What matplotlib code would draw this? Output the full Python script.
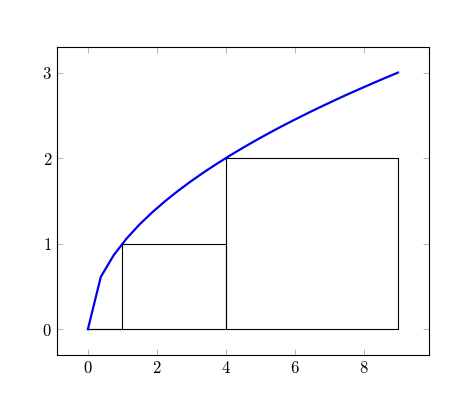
import matplotlib
matplotlib.use("Agg")
import matplotlib.pyplot as plt

plt.rcParams["font.family"] = "serif"
plt.rcParams["font.serif"] = ["cmr10", "DejaVu Serif"]
plt.rcParams["axes.formatter.use_mathtext"] = True

# curve samples (25 points, 0..9)
curve_x = [0, 0.375, 0.75, 1.125, 1.5, 1.875, 2.25, 2.625, 3.0, 3.375, 3.75, 4.125,
           4.5, 4.875, 5.25, 5.625, 6.0, 6.375, 6.75, 7.125, 7.5, 7.875, 8.25, 8.625, 9.0]
curve_y = [0, 0.612, 0.866, 1.061, 1.225, 1.369, 1.5, 1.62, 1.732, 1.837, 1.936, 2.031,
           2.121, 2.208, 2.291, 2.372, 2.449, 2.525, 2.598, 2.669, 2.739, 2.806, 2.872, 2.937, 3.0]

# rectangles: (x0, x1, height)
rects = [(0, 1, 0), (1, 4, 1), (4, 9, 2)]

fig = plt.figure(figsize=(4.74, 4.19), dpi=100)
ax = fig.add_axes([0.120, 0.153, 0.785, 0.735])

for x0, x1, h in rects:
    ax.plot([x0, x0, x1, x1, x0], [0, h, h, 0, 0], color="black", lw=0.8)
ax.plot(curve_x, curve_y, color="#0000ee", lw=1.6)

ax.set_xlim(-0.9, 9.9)
ax.set_ylim(-0.3, 3.3)
ax.set_xticks([0, 2, 4, 6, 8])
ax.set_yticks([0, 1, 2, 3])
ax.tick_params(direction="in", top=True, right=True, labelsize=12, width=0.5, length=4, color="#999999")
for s in ax.spines.values():
    s.set_linewidth(0.8)

fig.savefig("out.png", dpi=100)
